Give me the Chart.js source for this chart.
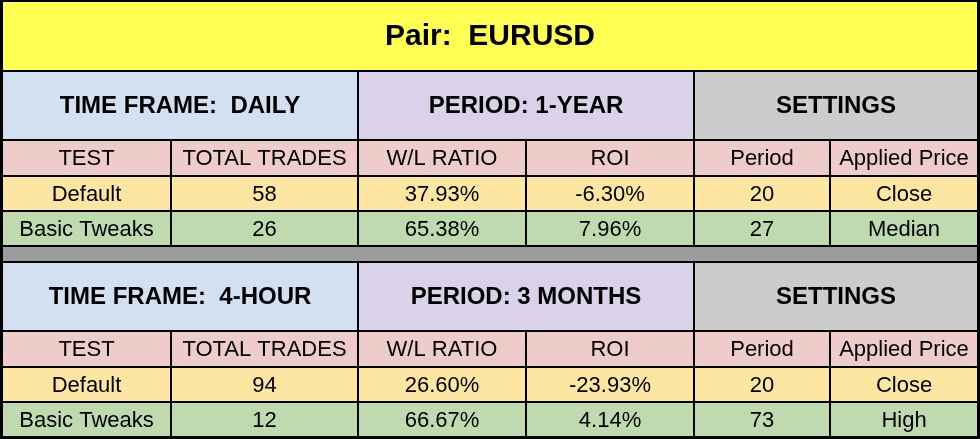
<!DOCTYPE html>
<html><head><meta charset="utf-8">
<script src="https://cdn.jsdelivr.net/npm/chart.js@4"></script>
<style>html,body{margin:0;padding:0;background:#fff}canvas{display:block}</style>
</head><body>
<div style="width:980px;height:439px"><canvas id="c" width="980" height="439"></canvas></div>
<script>
// ---- data ----
const pairTitle = "Pair:  EURUSD";
const sectionTitles = [
  ["TIME FRAME:  DAILY", "PERIOD: 1-YEAR", "SETTINGS"],
  ["TIME FRAME:  4-HOUR", "PERIOD: 3 MONTHS", "SETTINGS"]
];
const columnHeaders = ["TEST", "TOTAL TRADES", "W/L RATIO", "ROI", "Period", "Applied Price"];
const tests = ["Default", "Basic Tweaks"];
const totalTrades = [[58, 26], [94, 12]];
const wlRatio = [["37.93%", "65.38%"], ["26.60%", "66.67%"]];
const roi = [["-6.30%", "7.96%"], ["-23.93%", "4.14%"]];
const periodSetting = [[20, 27], [20, 73]];
const appliedPrice = [["Close", "Median"], ["Close", "High"]];

// ---- layout (scale units) ----
const colEdges = [2, 171, 358, 526, 694, 830, 978];
const blockTop = [71, 262];
const rowH = [69, 36, 35, 35];
const colors = {
  title: "#ffff52", blue: "#d3e0f1", purple: "#d9d2e8", gray: "#cccccc",
  pink: "#eeccca", yellow: "#fce6a1", green: "#bfdaaf", sep: "#9c9c9c"
};

const tablePlugin = {
  id: "table",
  beforeDraw(chart) {
    const ctx = chart.ctx, X = chart.scales.x, Y = chart.scales.y;
    const px = v => X.getPixelForValue(v), py = v => Y.getPixelForValue(v);
    function cell(x0, x1, y0, y1, fill, text, font) {
      const a = px(x0), b = px(x1), t = py(y0), u = py(y1);
      ctx.fillStyle = fill; ctx.fillRect(a, t, b - a, u - t);
      ctx.lineWidth = 2; ctx.strokeStyle = "#000"; ctx.strokeRect(a, t, b - a, u - t);
      if (text !== undefined) {
        ctx.fillStyle = "#000"; ctx.font = font; ctx.textAlign = "center"; ctx.textBaseline = "middle";
        ctx.fillText(String(text), (a + b) / 2, (t + u) / 2 + 1);
      }
    }
    ctx.save();
    ctx.fillStyle = "#000"; ctx.fillRect(0, 0, 980, 439);
    const boldBig = "bold 30px 'Liberation Sans', Arial, sans-serif";
    const bold = "bold 24px 'Liberation Sans', Arial, sans-serif";
    const norm = "22px 'Liberation Sans', Arial, sans-serif";
    cell(2, 978, 1, 71, colors.title, pairTitle, boldBig);
    cell(2, 978, 246, 262, colors.sep);
    const secFill = [colors.blue, colors.purple, colors.gray];
    const secCols = [[0, 2], [2, 4], [4, 6]];
    for (let b = 0; b < 2; b++) {
      let y = blockTop[b];
      secCols.forEach((c, i) => cell(colEdges[c[0]], colEdges[c[1]], y, y + rowH[0], secFill[i], sectionTitles[b][i], bold));
      y += rowH[0];
      columnHeaders.forEach((h, i) => cell(colEdges[i], colEdges[i + 1], y, y + rowH[1], colors.pink, h, norm));
      y += rowH[1];
      for (let r = 0; r < 2; r++) {
        const vals = [tests[r], totalTrades[b][r], wlRatio[b][r], roi[b][r], periodSetting[b][r], appliedPrice[b][r]];
        const fill = r === 0 ? colors.yellow : colors.green;
        vals.forEach((v, i) => cell(colEdges[i], colEdges[i + 1], y, y + rowH[2 + r], fill, v, norm));
        y += rowH[2 + r];
      }
    }
    ctx.restore();
  }
};

new Chart(document.getElementById("c"), {
  type: "scatter",
  data: { datasets: [{ data: [], pointRadius: 0 }] },
  options: {
    responsive: false, animation: false,
    layout: { padding: 0 },
    plugins: { legend: { display: false }, tooltip: { enabled: false } },
    scales: {
      x: { type: "linear", min: 0, max: 980, display: false },
      y: { type: "linear", min: 0, max: 439, reverse: true, display: false }
    }
  },
  plugins: [tablePlugin]
});
</script>
</body></html>
